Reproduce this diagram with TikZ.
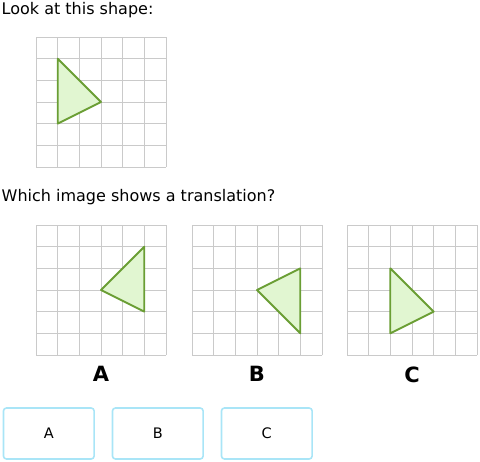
\documentclass[tikz,border=0pt]{standalone}
\usepackage{fontspec}
\setmainfont{DejaVu Sans}
\usetikzlibrary{positioning}

\definecolor{gridgray}{HTML}{CACACA}
\definecolor{shapegreen}{HTML}{6A9E34}
\definecolor{shapefill}{HTML}{E1F6D1}
\definecolor{btnblue}{HTML}{A9E5F7}

\begin{document}
\begin{tikzpicture}[x=1pt,y=-1pt,
    gridline/.style={gridgray,line width=0.9pt,step=21.667pt},
    tri/.style={draw=shapegreen,fill=shapefill,line width=1.8pt,line join=round},
    prompt/.style={anchor=base west,inner sep=0pt,font=\fontsize{16}{19}\selectfont},
    letter/.style={font=\fontsize{21}{25}\selectfont\bfseries},
    answer/.style={draw=btnblue,line width=1.6pt,rounded corners=3pt,
        minimum width=90.7pt,minimum height=51pt,font=\fontsize{14.5}{17}\selectfont}]
    \useasboundingbox (0,0) rectangle (480,462);

    % the given shape
    \node[prompt] (look) at (1.5,14.5) {Look at this shape:};
    \begin{scope}[shift={(36,37)},x=21.667pt,y=-21.667pt]
        \draw[gridline] (0,0) grid (6,6);
        \draw[tri] (1,1) -- (1,4) -- (3,3) -- cycle;
    \end{scope}

    % the three images
    \node[prompt] (which) at (1.5,201.5) {Which image shows a translation?};
    \foreach \gx/\name/\p/\q/\r in {36/A/{(5,1)}/{(5,4)}/{(3,3)},
                                    192/B/{(5,2)}/{(5,5)}/{(3,3)},
                                    347/C/{(2,2)}/{(2,5)}/{(4,4)}} {
        \begin{scope}[shift={(\gx,225)},x=21.667pt,y=-21.667pt]
            \draw[gridline] (0,0) grid (6,6);
            \draw[tri] \p -- \q -- \r -- cycle;
            \coordinate (grid\name) at (3,6);
        \end{scope}
        \node[letter,below=8pt of grid\name] (lab\name) {\name};
    }

    % answer buttons
    \node[answer] (btnA) at (48.8,433.5) {A};
    \node[answer,right=16.7pt of btnA] (btnB) {B};
    \node[answer,right=16.7pt of btnB] (btnC) {C};
\end{tikzpicture}
\end{document}
